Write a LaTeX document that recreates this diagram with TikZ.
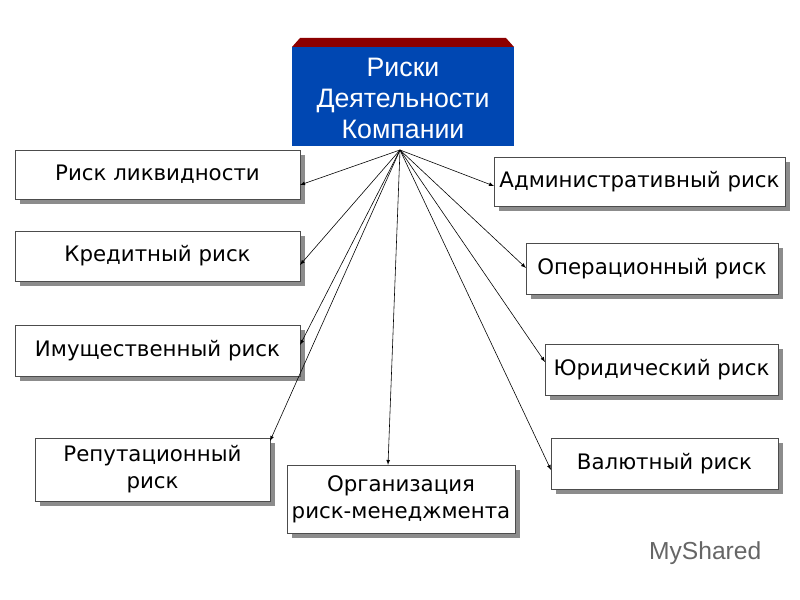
\documentclass[tikz,border=0pt]{standalone}
\usepackage{fontspec}
\setmainfont{Liberation Sans}
\newfontfamily\vfont{DejaVu Sans}
\begin{document}
\begin{tikzpicture}[x=0.03cm,y=-0.03cm,
 box/.style={draw=black!70,fill=white,line width=0.6pt},
 shd/.style={fill=black!45},
 lbl/.style={font=\vfont\fontsize{18.2pt}{23pt}\selectfont,align=center,inner sep=0pt},
 arr/.style={-latex,line width=0.5pt}]
\useasboundingbox (0,0) rectangle (800,600);
\fill[white] (0,0) rectangle (800,600);
% top
\fill[red!55!black] (300,38) -- (506,38) -- (514,47) -- (292,47) -- cycle;
\fill[blue!60!cyan!70!black] (292,47) rectangle (514,146);
\node[align=center,text=white,font=\fontsize{22.8pt}{26.5pt}\selectfont,inner sep=0pt] (top) at (403,98) {Риски\\Деятельности\\Компании};
\coordinate (hub) at (400,150);
\newcommand{\rbox}[6]{%
 \fill[shd] (#2+5,#3+5) rectangle (#4+5,#5+5);
 \draw[box] (#2,#3) rectangle (#4,#5);
 \node[lbl] (#1) at ({(#2+#4)/2},{(#3+#5)/2}) {#6};}
\rbox{liq}{15}{150}{300}{199}{Риск ликвидности}
\rbox{cred}{15}{231}{300}{281}{Кредитный риск}
\rbox{prop}{15}{325}{300}{376}{Имущественный риск}
\rbox{rep}{35}{438}{270}{501}{Репутационный\\риск}
\rbox{org}{287}{465}{515}{533}{Организация\\риск-менеджмента}
\rbox{adm}{494}{157}{785}{206}{Административный риск}
\rbox{oper}{526}{243}{778}{294}{Операционный риск}
\rbox{jur}{545}{344}{778}{395}{Юридический риск}
\rbox{cur}{551}{438}{778}{489}{Валютный риск}
\coordinate (eliq) at (300,185);
\coordinate (ecred) at (300,265);
\coordinate (eprop) at (300,345);
\coordinate (erep) at (270,441);
\coordinate (eorg) at (388,465);
\coordinate (eadm) at (494,186);
\coordinate (eoper) at (526,268);
\coordinate (ejur) at (545,362);
\coordinate (ecur) at (551,470);
\foreach \e in {eliq,ecred,eprop,erep,eorg,eadm,eoper,ejur,ecur}
  \draw[arr] (hub) -- (\e);
\node[text=black!60,font=\fontsize{21pt}{24pt}\selectfont,anchor=west] (ms) at (645,553) {MyShared};
\end{tikzpicture}
\end{document}
